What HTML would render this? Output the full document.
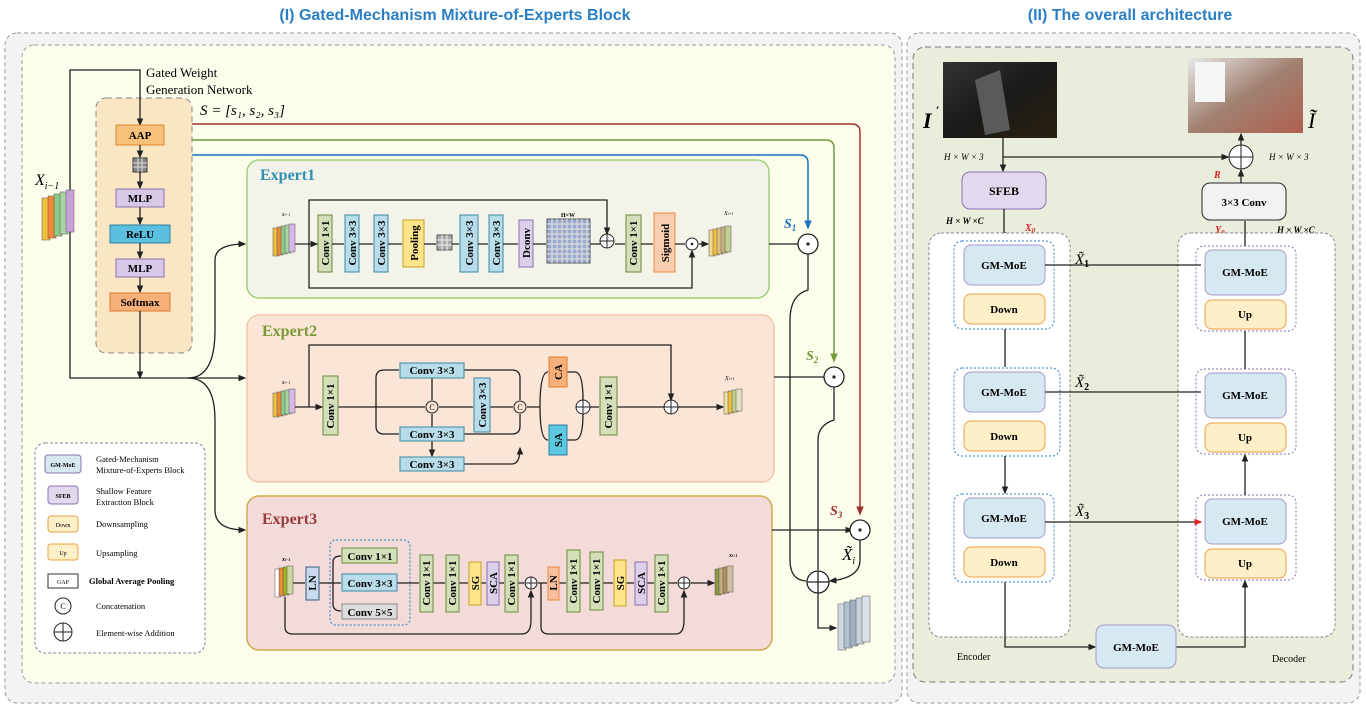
<!DOCTYPE html>
<html><head><meta charset="utf-8"><style>
html,body{margin:0;padding:0;background:#fff;width:1366px;height:709px;overflow:hidden}
svg text{font-family:"Liberation Serif",serif;font-weight:bold}
svg text.n{font-weight:normal}
.t{font-size:11px}
.ln{stroke:#222;stroke-width:1.3;fill:none}
</style></head><body>
<svg width="1366" height="709" viewBox="0 0 1366 709" xmlns="http://www.w3.org/2000/svg">
<defs>
<marker id="a" markerWidth="6" markerHeight="6" refX="5" refY="3" orient="auto"><path d="M0,0.5 L6,3 L0,5.5z" fill="#222"/></marker>
<marker id="ab" markerWidth="6" markerHeight="6" refX="5" refY="3" orient="auto"><path d="M0,0.5 L6,3 L0,5.5z" fill="#1a6fc0"/></marker>
<marker id="ag" markerWidth="6" markerHeight="6" refX="5" refY="3" orient="auto"><path d="M0,0.5 L6,3 L0,5.5z" fill="#6f9a3a"/></marker>
<marker id="ar" markerWidth="6" markerHeight="6" refX="5" refY="3" orient="auto"><path d="M0,0.5 L6,3 L0,5.5z" fill="#a03030"/></marker>
<marker id="rr" markerWidth="6" markerHeight="6" refX="5" refY="3" orient="auto"><path d="M0,0.5 L6,3 L0,5.5z" fill="#e02020"/></marker>
</defs>
<text x="455" y="20" text-anchor="middle" style="font-family:'Liberation Sans',sans-serif;font-size:16px" fill="#2a7fc4">(I) Gated-Mechanism Mixture-of-Experts Block</text>
<text x="1130" y="20" text-anchor="middle" style="font-family:'Liberation Sans',sans-serif;font-size:16px" fill="#2a7fc4">(II) The overall architecture</text>
<rect x="5" y="33" width="897" height="670" rx="12" fill="#f3f3f3" stroke="#999" stroke-dasharray="4,3"/>
<rect x="22" y="45" width="873" height="638" rx="12" fill="#fdfdec" stroke="#999" stroke-dasharray="4,3"/>
<rect x="907" y="33" width="453" height="670" rx="12" fill="#f3f3f3" stroke="#999" stroke-dasharray="4,3"/>
<rect x="913" y="47" width="440" height="635" rx="12" fill="#e9eedc" stroke="#777" stroke-dasharray="6,4"/>

<rect x="96" y="98" width="96" height="255" rx="10" fill="#fbe6c4" stroke="#888" stroke-dasharray="6,4"/>
<text x="146" y="77" class="n" style="font-size:13px">Gated Weight</text>
<text x="146" y="94" class="n" style="font-size:13px">Generation Network</text>
<text x="200" y="115" class="n" style="font-style:italic;font-size:15px">S = [s₁, s₂, s₃]</text>
<path class="ln" d="M70,205 V70 H140 V125" marker-end="url(#a)"/>
<rect x="116" y="125" width="48" height="20" fill="#f8c07a" stroke="#d88a2a"/><text x="140" y="139" text-anchor="middle" class="t">AAP</text>
<path class="ln" d="M140,145 V157" marker-end="url(#a)"/>
<rect x="133" y="158" width="14" height="14" fill="#888" stroke="#333"/>
<path d="M133,163 H147 M133,167 H147 M138,158 V172 M142,158 V172" stroke="#ddd" stroke-width="1"/>
<path class="ln" d="M140,172 V188" marker-end="url(#a)"/>
<rect x="116" y="189" width="48" height="18" fill="#d7c8e8" stroke="#8a72b0"/><text x="140" y="202" text-anchor="middle" class="t">MLP</text>
<path class="ln" d="M140,207 V224" marker-end="url(#a)"/>
<rect x="110" y="225" width="60" height="18" fill="#5bc0de" stroke="#2a7fa0"/><text x="140" y="238" text-anchor="middle" class="t">ReLU</text>
<path class="ln" d="M140,243 V258" marker-end="url(#a)"/>
<rect x="116" y="259" width="48" height="18" fill="#d7c8e8" stroke="#8a72b0"/><text x="140" y="272" text-anchor="middle" class="t">MLP</text>
<path class="ln" d="M140,277 V292" marker-end="url(#a)"/>
<rect x="110" y="293" width="60" height="18" fill="#f8b07a" stroke="#d87a2a"/><text x="140" y="306" text-anchor="middle" class="t">Softmax</text>
<path class="ln" d="M140,311 V378" marker-end="url(#a)"/>

<text x="35" y="185" class="n" style="font-style:italic;font-size:16px">X<tspan font-size="10" dy="4">i−1</tspan></text>
<rect x="42" y="198" width="8" height="42" fill="#f0c040" stroke="#555" stroke-width=".5"/>
<rect x="48" y="196" width="8" height="42" fill="#f08a3a" stroke="#555" stroke-width=".5"/>
<rect x="54" y="194" width="8" height="42" fill="#8fc98a" stroke="#555" stroke-width=".5"/>
<rect x="60" y="192" width="8" height="42" fill="#a6d6a0" stroke="#555" stroke-width=".5"/>
<rect x="66" y="190" width="8" height="42" fill="#c9a0dc" stroke="#555" stroke-width=".5"/>
<path class="ln" d="M70,232 V378 H245" marker-end="url(#a)"/>
<path class="ln" d="M188,378 Q215,378 215,330 V260 Q215,244 245,244" marker-end="url(#a)"/>
<path class="ln" d="M188,378 Q215,378 215,420 V510 Q215,530 245,530" marker-end="url(#a)"/>

<path d="M192,155 H800 Q808,155 808,163 V228" stroke="#1a6fc0" stroke-width="1.5" fill="none" marker-end="url(#ab)"/>
<path d="M192,140 H826 Q834,140 834,148 V361" stroke="#6f9a3a" stroke-width="1.5" fill="none" marker-end="url(#ag)"/>
<path d="M192,124 H852 Q860,124 860,132 V514" stroke="#a03030" stroke-width="1.5" fill="none" marker-end="url(#ar)"/>

<!-- Expert1 -->
<rect x="247" y="160" width="522" height="138" rx="12" fill="#f3f3ea" stroke="#9fd17a" stroke-width="1.5"/>
<text x="260" y="180" fill="#2f8fb0" style="font-size:16px">Expert1</text>
<text x="282" y="216" class="n" style="font-style:italic;font-size:6px">x<tspan font-size="4">i−1</tspan></text>
<rect x="273" y="228" width="6" height="28" fill="#f0c040" stroke="#555" stroke-width=".5"/>
<rect x="277" y="227" width="6" height="28" fill="#f08a3a" stroke="#555" stroke-width=".5"/>
<rect x="281" y="226" width="6" height="28" fill="#8fc98a" stroke="#555" stroke-width=".5"/>
<rect x="285" y="225" width="6" height="28" fill="#a6d6a0" stroke="#555" stroke-width=".5"/>
<rect x="289" y="224" width="6" height="28" fill="#d6b8e8" stroke="#555" stroke-width=".5"/>
<path class="ln" d="M295,244 H317" marker-end="url(#a)"/>
<path class="ln" d="M309,244 V200 H607 V234" marker-end="url(#a)"/>
<path class="ln" d="M309,244 V288 H692 V251" marker-end="url(#a)"/>
<g class="t">
<rect x="318" y="215" width="14" height="57" fill="#d2dfb8" stroke="#6a8a3a"/><text transform="translate(329,243) rotate(-90)" text-anchor="middle">Conv 1×1</text>
<rect x="345" y="215" width="14" height="57" fill="#b8dcea" stroke="#3a8aa0"/><text transform="translate(356,243) rotate(-90)" text-anchor="middle">Conv 3×3</text>
<rect x="374" y="215" width="14" height="57" fill="#b8dcea" stroke="#3a8aa0"/><text transform="translate(385,243) rotate(-90)" text-anchor="middle">Conv 3×3</text>
<rect x="403" y="220" width="21" height="47" fill="#fde38a" stroke="#c8a020"/><text transform="translate(418,243) rotate(-90)" text-anchor="middle">Pooling</text>
<rect x="460" y="215" width="18" height="57" fill="#b8dcea" stroke="#3a8aa0"/><text transform="translate(473,243) rotate(-90)" text-anchor="middle">Conv 3×3</text>
<rect x="489" y="215" width="14" height="57" fill="#b8dcea" stroke="#3a8aa0"/><text transform="translate(500,243) rotate(-90)" text-anchor="middle">Conv 3×3</text>
<rect x="519" y="220" width="14" height="47" fill="#dccfea" stroke="#8a72b0"/><text transform="translate(530,243) rotate(-90)" text-anchor="middle">Dconv</text>
<rect x="626" y="215" width="15" height="57" fill="#d2dfb8" stroke="#6a8a3a"/><text transform="translate(637,243) rotate(-90)" text-anchor="middle">Conv 1×1</text>
<rect x="654" y="213" width="21" height="59" fill="#f9cdb0" stroke="#f08a3a"/><text transform="translate(669,243) rotate(-90)" text-anchor="middle">Sigmoid</text>
</g>
<rect x="437" y="235" width="15" height="15" fill="#aaa" stroke="#555"/>
<path d="M437,240 H452 M437,245 H452 M442,235 V250 M447,235 V250" stroke="#eee"/>
<rect x="547" y="219" width="43" height="44" fill="#9ac" stroke="#555"/>
<path d="M547,224 H590 M547,229 H590 M547,234 H590 M547,239 H590 M547,244 H590 M547,249 H590 M547,254 H590 M547,259 H590 M552,219 V263 M557,219 V263 M562,219 V263 M567,219 V263 M572,219 V263 M577,219 V263 M582,219 V263 M587,219 V263" stroke="#ddd" stroke-width="1.2"/>
<text x="568" y="217" text-anchor="middle" style="font-size:6px">H×W</text>
<path class="ln" d="M332,244 H344 M359,244 H373 M388,244 H402 M424,244 H436 M452,244 H459 M478,244 H488 M503,244 H518 M533,244 H546 M590,244 H600 M615,244 H625 M641,244 H653 M675,244 H685 M699,244 H708" marker-end="url(#a)"/>
<circle cx="607" cy="241" r="7" fill="#fff" stroke="#222"/><path d="M600,241 H614 M607,234 V248" stroke="#222"/>
<circle cx="692" cy="244" r="6" fill="#fff" stroke="#222"/><circle cx="692" cy="244" r="1.3" fill="#222"/>
<rect x="709" y="230" width="6" height="26" fill="#f0d890" stroke="#555" stroke-width=".5"/>
<rect x="713" y="229" width="6" height="26" fill="#f0c040" stroke="#555" stroke-width=".5"/>
<rect x="717" y="228" width="6" height="26" fill="#e0c080" stroke="#555" stroke-width=".5"/>
<rect x="721" y="227" width="6" height="26" fill="#c9b080" stroke="#555" stroke-width=".5"/>
<rect x="725" y="226" width="6" height="26" fill="#c0d090" stroke="#555" stroke-width=".5"/>
<text x="724" y="215" class="n" style="font-style:italic;font-size:6px">X<tspan font-size="4">i+1</tspan></text>

<!-- Expert2 -->
<rect x="247" y="315" width="527" height="167" rx="12" fill="#fbe5d6" stroke="#f3c7a8" stroke-width="1.5"/>
<text x="262" y="336" fill="#7a9a3a" style="font-size:16px">Expert2</text>
<text x="282" y="384" class="n" style="font-style:italic;font-size:6px">x<tspan font-size="4">i−1</tspan></text>
<rect x="273" y="393" width="6" height="24" fill="#f0c040" stroke="#555" stroke-width=".5"/>
<rect x="277" y="392" width="6" height="24" fill="#f08a3a" stroke="#555" stroke-width=".5"/>
<rect x="281" y="391" width="6" height="24" fill="#8fc98a" stroke="#555" stroke-width=".5"/>
<rect x="285" y="390" width="6" height="24" fill="#a6d6a0" stroke="#555" stroke-width=".5"/>
<rect x="289" y="389" width="6" height="24" fill="#d6b8e8" stroke="#555" stroke-width=".5"/>
<path class="ln" d="M295,407 H322" marker-end="url(#a)"/>
<path class="ln" d="M309,407 V345 H671 V400" marker-end="url(#a)"/>
<path class="ln" d="M337,407 H376 M376,407 H425 M376,407 V378 Q376,370 384,370 H399 M376,407 V426 Q376,434 384,434 H399 M439,407 H473 M490,407 H513 M464,370 H512 Q520,370 520,378 V400 M464,434 H512 Q520,434 520,426 V414 M464,464 H512 Q520,464 520,448" marker-end="url(#a)"/>
<path class="ln" d="M432,378 V400 M432,434 V414 M432,441 V456" marker-end="url(#a)"/>
<path class="ln" d="M527,407 H540 Q540,372 548,372 M540,407 Q540,440 548,440 M567,372 H575 Q583,372 583,400 M567,440 H575 Q583,440 583,414 M590,407 H599 M617,407 H664 M678,407 H723" marker-end="url(#a)"/>
<g class="t">
<rect x="323" y="376" width="15" height="59" fill="#d2dfb8" stroke="#6a8a3a"/><text transform="translate(334,406) rotate(-90)" text-anchor="middle">Conv 1×1</text>
<rect x="400" y="363" width="64" height="15" fill="#b8dcea" stroke="#3a8aa0"/><text x="432" y="374" text-anchor="middle">Conv 3×3</text>
<rect x="400" y="427" width="64" height="14" fill="#b8dcea" stroke="#3a8aa0"/><text x="432" y="438" text-anchor="middle">Conv 3×3</text>
<rect x="400" y="457" width="64" height="14" fill="#b8dcea" stroke="#3a8aa0"/><text x="432" y="468" text-anchor="middle">Conv 3×3</text>
<rect x="474" y="378" width="16" height="54" fill="#b8dcea" stroke="#3a8aa0"/><text transform="translate(486,405) rotate(-90)" text-anchor="middle">Conv 3×3</text>
<rect x="549" y="357" width="18" height="30" fill="#f8b07a" stroke="#e07a2a"/><text transform="translate(562,372) rotate(-90)" text-anchor="middle">CA</text>
<rect x="549" y="425" width="18" height="30" fill="#5bc8e0" stroke="#2a7fa0"/><text transform="translate(562,440) rotate(-90)" text-anchor="middle">SA</text>
<rect x="600" y="377" width="17" height="58" fill="#d2dfb8" stroke="#6a8a3a"/><text transform="translate(612,406) rotate(-90)" text-anchor="middle">Conv 1×1</text>
</g>
<circle cx="432" cy="407" r="6" fill="#fbe5d6" stroke="#222"/><text x="432" y="410" text-anchor="middle" class="n" style="font-size:8px">C</text>
<circle cx="520" cy="407" r="6" fill="#fbe5d6" stroke="#222"/><text x="520" y="410" text-anchor="middle" class="n" style="font-size:8px">C</text>
<circle cx="583" cy="407" r="7" fill="#fff" stroke="#222"/><path d="M576,407 H590 M583,400 V414" stroke="#222"/>
<circle cx="671" cy="407" r="7" fill="#fff" stroke="#222"/><path d="M664,407 H678 M671,400 V414" stroke="#222"/>
<text x="725" y="380" class="n" style="font-style:italic;font-size:6px">X<tspan font-size="4">i+1</tspan></text>
<rect x="724" y="392" width="6" height="22" fill="#f0e0a0" stroke="#555" stroke-width=".5"/>
<rect x="728" y="391" width="6" height="22" fill="#f0c040" stroke="#555" stroke-width=".5"/>
<rect x="732" y="390" width="6" height="22" fill="#c0d090" stroke="#555" stroke-width=".5"/>
<rect x="736" y="389" width="6" height="22" fill="#e0e0c0" stroke="#555" stroke-width=".5"/>

<!-- Expert3 -->
<rect x="247" y="496" width="525" height="154" rx="12" fill="#f3dbd9" stroke="#d4a94a" stroke-width="1.5"/>
<text x="262" y="524" fill="#9a3a3a" style="font-size:16px">Expert3</text>
<text x="282" y="561" style="font-style:italic;font-size:6px">x<tspan font-size="4">i−1</tspan></text>
<rect x="275" y="569" width="6" height="28" fill="#fff" stroke="#555" stroke-width=".5"/>
<rect x="279" y="568" width="6" height="28" fill="#f08a3a" stroke="#555" stroke-width=".5"/>
<rect x="283" y="567" width="6" height="28" fill="#a0b020" stroke="#555" stroke-width=".5"/>
<rect x="287" y="566" width="6" height="28" fill="#c8d8a0" stroke="#555" stroke-width=".5"/>
<rect x="330" y="540" width="80" height="85" rx="6" fill="none" stroke="#2a7fd0" stroke-dasharray="2,2"/>
<path class="ln" d="M293,583 H305 M319,583 H341 M333,583 V562 Q333,556 341,556 M333,583 V604 Q333,611 341,611 M397,583 H419 M432,583 H445 M459,583 H468 M481,583 H486 M499,583 H504 M518,583 H524 M538,583 H547 M559,583 H566 M580,583 H589 M603,583 H613 M626,583 H634 M647,583 H654 M668,583 H677 M691,583 H714" marker-end="url(#a)"/>
<path class="ln" d="M285,597 V627 Q285,634 293,634 H522 Q531,634 531,620 V591" marker-end="url(#a)"/>
<path class="ln" d="M541,583 V627 Q541,634 549,634 H676 Q684,634 684,620 V591" marker-end="url(#a)"/>
<g class="t">
<rect x="306" y="567" width="13" height="33" fill="#c8daf0" stroke="#3a5a80"/><text transform="translate(316,583) rotate(-90)" text-anchor="middle">LN</text>
<rect x="342" y="548" width="55" height="15" fill="#d2dfb8" stroke="#6a8a3a"/><text x="370" y="560" text-anchor="middle">Conv 1×1</text>
<rect x="342" y="574" width="55" height="17" fill="#b8dcea" stroke="#3a8aa0"/><text x="370" y="587" text-anchor="middle">Conv 3×3</text>
<rect x="342" y="604" width="55" height="15" fill="#ddd" stroke="#888"/><text x="370" y="616" text-anchor="middle">Conv 5×5</text>
<rect x="420" y="555" width="13" height="57" fill="#d2dfb8" stroke="#6a8a3a"/><text transform="translate(430,583) rotate(-90)" text-anchor="middle">Conv 1×1</text>
<rect x="446" y="555" width="13" height="57" fill="#d2dfb8" stroke="#6a8a3a"/><text transform="translate(456,583) rotate(-90)" text-anchor="middle">Conv 1×1</text>
<rect x="469" y="562" width="12" height="43" fill="#fde38a" stroke="#c8a020"/><text transform="translate(479,583) rotate(-90)" text-anchor="middle">SG</text>
<rect x="487" y="562" width="12" height="43" fill="#dccfea" stroke="#8a72b0"/><text transform="translate(497,583) rotate(-90)" text-anchor="middle">SCA</text>
<rect x="505" y="555" width="13" height="57" fill="#d2dfb8" stroke="#6a8a3a"/><text transform="translate(515,583) rotate(-90)" text-anchor="middle">Conv 1×1</text>
<rect x="548" y="567" width="11" height="33" fill="#f9bfa0" stroke="#f08a3a"/><text transform="translate(557,583) rotate(-90)" text-anchor="middle">LN</text>
<rect x="567" y="550" width="13" height="62" fill="#d2dfb8" stroke="#6a8a3a"/><text transform="translate(577,581) rotate(-90)" text-anchor="middle">Conv 1×1</text>
<rect x="590" y="552" width="13" height="58" fill="#d2dfb8" stroke="#6a8a3a"/><text transform="translate(600,581) rotate(-90)" text-anchor="middle">Conv 1×1</text>
<rect x="614" y="560" width="12" height="46" fill="#fde38a" stroke="#c8a020"/><text transform="translate(624,583) rotate(-90)" text-anchor="middle">SG</text>
<rect x="635" y="562" width="12" height="43" fill="#dccfea" stroke="#8a72b0"/><text transform="translate(645,583) rotate(-90)" text-anchor="middle">SCA</text>
<rect x="655" y="555" width="13" height="57" fill="#d2dfb8" stroke="#6a8a3a"/><text transform="translate(665,583) rotate(-90)" text-anchor="middle">Conv 1×1</text>
</g>
<circle cx="531" cy="583" r="6" fill="#fff" stroke="#222"/><path d="M525,583 H537 M531,577 V589" stroke="#222"/>
<circle cx="684" cy="583" r="6" fill="#fff" stroke="#222"/><path d="M678,583 H690 M684,577 V589" stroke="#222"/>
<text x="729" y="557" style="font-style:italic;font-size:6px">x<tspan font-size="4">i+1</tspan></text>
<rect x="715" y="569" width="6" height="26" fill="#8a9a40" stroke="#555" stroke-width=".5"/>
<rect x="719" y="568" width="6" height="26" fill="#c0b080" stroke="#555" stroke-width=".5"/>
<rect x="723" y="567" width="6" height="26" fill="#b09060" stroke="#555" stroke-width=".5"/>
<rect x="727" y="566" width="6" height="26" fill="#d0c0a0" stroke="#555" stroke-width=".5"/>

<!-- combine -->
<path class="ln" d="M769,244 H800 M774,377 H826 M772,530 H852" marker-end="url(#a)"/>
<circle cx="808" cy="244" r="10" fill="#fff" stroke="#222" stroke-width="1.3"/><circle cx="808" cy="244" r="1.6" fill="#222"/>
<circle cx="834" cy="377" r="10" fill="#fff" stroke="#222" stroke-width="1.3"/><circle cx="834" cy="377" r="1.6" fill="#222"/>
<circle cx="860" cy="530" r="10" fill="#fff" stroke="#222" stroke-width="1.3"/><circle cx="860" cy="530" r="1.6" fill="#222"/>
<text x="784" y="228" fill="#1a6fc0" style="font-style:italic;font-size:14px">S<tspan font-size="9" dy="3">1</tspan></text>
<text x="806" y="360" fill="#6f9a3a" style="font-style:italic;font-size:14px">S<tspan font-size="9" dy="3">2</tspan></text>
<text x="830" y="515" fill="#a03030" style="font-style:italic;font-size:14px">S<tspan font-size="9" dy="3">3</tspan></text>
<path class="ln" d="M808,254 V290 Q790,295 790,320 V560 Q790,580 806,581 M834,387 V420 Q818,425 818,440 V570 M860,540 V560 Q860,578 830,581" marker-end="url(#a)"/>
<circle cx="818" cy="582" r="11" fill="#fff" stroke="#222" stroke-width="1.3"/><path d="M807,582 H829 M818,571 V593" stroke="#222" stroke-width="1.3"/>
<path class="ln" d="M818,593 V628 H836" marker-end="url(#a)"/>
<text x="842" y="560" class="n" style="font-style:italic;font-size:17px">X̃<tspan font-size="10" dy="4">i</tspan></text>
<rect x="838" y="604" width="8" height="46" fill="#cfd8e0" stroke="#555" stroke-width=".5"/>
<rect x="844" y="602" width="8" height="46" fill="#b0c0d0" stroke="#555" stroke-width=".5"/>
<rect x="850" y="600" width="8" height="46" fill="#a0b0c0" stroke="#555" stroke-width=".5"/>
<rect x="856" y="598" width="8" height="46" fill="#c8d0d8" stroke="#555" stroke-width=".5"/>
<rect x="862" y="596" width="8" height="46" fill="#d8e0e8" stroke="#555" stroke-width=".5"/>

<!-- legend -->
<rect x="35" y="443" width="170" height="210" rx="10" fill="#fff" stroke="#888" stroke-dasharray="3,2"/>
<g style="font-size:8.5px">
<rect x="45" y="455" width="36" height="18" rx="3" fill="#d6e8f2" stroke="#8a72b0"/><text x="63" y="467" text-anchor="middle" font-size="6">GM-MoE</text>
<text x="96" y="462" class="n" font-size="8.5">Gated-Mechanism</text><text x="96" y="473" class="n" font-size="8.5">Mixture-of-Experts Block</text>
<rect x="48" y="486" width="30" height="18" rx="3" fill="#e3d9ef" stroke="#8a72b0"/><text x="63" y="498" text-anchor="middle" font-size="6">SFEB</text>
<text x="96" y="494" class="n" font-size="8.5">Shallow Feature</text><text x="96" y="505" class="n" font-size="8.5">Extraction Block</text>
<rect x="48" y="516" width="30" height="16" rx="3" fill="#fdf0c8" stroke="#f0a040"/><text x="63" y="527" text-anchor="middle" font-size="6" class="n">Down</text>
<text x="96" y="527" class="n" font-size="8.5">Downsampling</text>
<rect x="48" y="544" width="30" height="16" rx="3" fill="#fdf0c8" stroke="#f0a040"/><text x="63" y="555" text-anchor="middle" font-size="6" class="n">Up</text>
<text x="96" y="556" class="n" font-size="8.5">Upsampling</text>
<rect x="48" y="574" width="30" height="14" fill="#fff" stroke="#333"/><text x="63" y="584" text-anchor="middle" font-size="6" class="n">GAP</text>
<text x="89" y="584" font-size="8.5">Global Average Pooling</text>
<circle cx="63" cy="606" r="8" fill="#fff" stroke="#222"/><text x="63" y="609" text-anchor="middle" font-size="8" class="n">C</text>
<text x="96" y="609" class="n" font-size="8.5">Concatenation</text>
<circle cx="63" cy="632" r="9" fill="#fff" stroke="#222"/><path d="M54,632 H72 M63,623 V641" stroke="#222"/>
<text x="96" y="636" class="n" font-size="8.5">Element-wise Addition</text>
</g>

<!-- RIGHT -->
<defs>
<linearGradient id="imgA" x1="0" y1="0" x2="1" y2="1"><stop offset="0" stop-color="#333"/><stop offset=".5" stop-color="#1a1a1a"/><stop offset="1" stop-color="#2a2010"/></linearGradient>
<linearGradient id="imgB" x1="0" y1="0" x2="1" y2="1"><stop offset="0" stop-color="#e8e8e8"/><stop offset=".5" stop-color="#a08070"/><stop offset="1" stop-color="#b06050"/></linearGradient>
</defs>
<rect x="943" y="62" width="114" height="76" fill="url(#imgA)"/>
<polygon points="975,80 1000,70 1010,130 985,135" fill="#5a5a5a"/>
<rect x="1188" y="58" width="115" height="75" fill="url(#imgB)"/>
<rect x="1195" y="62" width="30" height="40" fill="#f5f5f5"/>
<text x="923" y="128" style="font-style:italic;font-size:22px">I</text><text x="936" y="114" style="font-size:12px">′</text>
<text x="1308" y="128" class="n" style="font-style:italic;font-size:22px">Ĩ</text>
<g>
<text x="944" y="160" class="n" font-style="italic" font-size="9">H × W × 3</text>
<text x="1269" y="160" class="n" font-style="italic" font-size="9">H × W × 3</text>
<text x="946" y="224" font-style="italic" font-size="9">H × W ×C</text>
<text x="1277" y="233" font-style="italic" font-size="9">H × W ×C</text>
<text x="946" y="344" class="n" font-style="italic" font-size="9">H/2 × W/2 × 2C</text>
<text x="946" y="471" class="n" font-style="italic" font-size="9">H/4 × W/4 × 4C</text>
<text x="946" y="603" class="n" font-style="italic" font-size="9">H/8 × W/8 × 8C</text>
<text x="1262" y="350" class="n" font-style="italic" font-size="9">H/2 × W/2 × 2C</text>
<text x="1262" y="475" class="n" font-style="italic" font-size="9">H/4 × W/4 × 4C</text>
<text x="1262" y="603" class="n" font-style="italic" font-size="9">H/8 × W/8 × 8C</text>
</g>
<g fill="#e02020" style="font-style:italic;font-size:10px">
<text x="1025" y="231">X<tspan font-size="7" dy="2">0</tspan></text>
<text x="1030" y="348">X<tspan font-size="7" dy="2">1</tspan></text>
<text x="1030" y="476">X<tspan font-size="7" dy="2">2</tspan></text>
<text x="1030" y="609">X<tspan font-size="7" dy="2">3</tspan></text>
<text x="1214" y="178">R</text>
<text x="1215" y="233">Y<tspan font-size="7" dy="2">0</tspan></text>
<text x="1220" y="354">Y<tspan font-size="7" dy="2">1</tspan></text>
<text x="1220" y="479">Y<tspan font-size="7" dy="2">2</tspan></text>
<text x="1220" y="612">Y<tspan font-size="7" dy="2">3</tspan></text>
</g>
<path class="ln" d="M1003,138 V171" marker-end="url(#a)"/>
<path class="ln" d="M1003,157 H1228" marker-end="url(#a)"/>
<circle cx="1241" cy="157" r="12" fill="#fff" stroke="#222"/><path d="M1229,157 H1253 M1241,145 V169" stroke="#222"/>
<path class="ln" d="M1241,145 V134" marker-end="url(#a)"/>
<path class="ln" d="M1241,187 V170" marker-end="url(#a)"/>
<rect x="962" y="172" width="84" height="37" rx="8" fill="#e3d9ef" stroke="#8a72b0"/><text x="1004" y="195" text-anchor="middle" font-size="12">SFEB</text>
<rect x="1202" y="183" width="84" height="37" rx="8" fill="#f2f2f2" stroke="#222"/><text x="1244" y="206" text-anchor="middle" font-size="11">3×3 Conv</text>
<path class="ln" d="M1004,209 V239" marker-end="url(#a)"/>
<rect x="929" y="233" width="141" height="404" rx="12" fill="#fff" stroke="#888" stroke-dasharray="3,2"/>
<rect x="1178" y="233" width="157" height="404" rx="12" fill="#fff" stroke="#888" stroke-dasharray="3,2"/>
<text x="957" y="660" class="n" font-size="10">Encoder</text>
<text x="1272" y="662" class="n" font-size="10">Decoder</text>
<rect x="954" y="241" width="100" height="88" rx="8" fill="none" stroke="#2a7fd0" stroke-dasharray="2,2"/>
<rect x="964" y="245" width="81" height="40" rx="7" fill="#d6e8f2" stroke="#a898c8"/><text x="1004" y="269" text-anchor="middle" font-size="11">GM-MoE</text>
<rect x="964" y="294" width="81" height="30" rx="7" fill="#fdf0c8" stroke="#f0a040"/><text x="1004" y="313" text-anchor="middle" font-size="11">Down</text>
<rect x="954" y="368" width="106" height="88" rx="8" fill="none" stroke="#2a7fd0" stroke-dasharray="2,2"/>
<rect x="964" y="372" width="81" height="40" rx="7" fill="#d6e8f2" stroke="#a898c8"/><text x="1004" y="396" text-anchor="middle" font-size="11">GM-MoE</text>
<rect x="964" y="421" width="81" height="30" rx="7" fill="#fdf0c8" stroke="#f0a040"/><text x="1004" y="440" text-anchor="middle" font-size="11">Down</text>
<rect x="954" y="494" width="100" height="88" rx="8" fill="none" stroke="#2a7fd0" stroke-dasharray="2,2"/>
<rect x="964" y="498" width="81" height="40" rx="7" fill="#d6e8f2" stroke="#a898c8"/><text x="1004" y="522" text-anchor="middle" font-size="11">GM-MoE</text>
<rect x="964" y="547" width="81" height="30" rx="7" fill="#fdf0c8" stroke="#f0a040"/><text x="1004" y="566" text-anchor="middle" font-size="11">Down</text>
<path class="ln" d="M1005,329 V367 M1005,456 V493" marker-end="url(#a)"/>
<rect x="1196" y="246" width="100" height="85" rx="8" fill="none" stroke="#8a72b0" stroke-dasharray="2,2"/>
<rect x="1205" y="250" width="81" height="45" rx="7" fill="#d6e8f2" stroke="#a898c8"/><text x="1245" y="276" text-anchor="middle" font-size="11">GM-MoE</text>
<rect x="1205" y="300" width="81" height="29" rx="7" fill="#fdf0c8" stroke="#f0a040"/><text x="1245" y="318" text-anchor="middle" font-size="11">Up</text>
<rect x="1196" y="369" width="100" height="85" rx="8" fill="none" stroke="#8a72b0" stroke-dasharray="2,2"/>
<rect x="1205" y="373" width="81" height="45" rx="7" fill="#d6e8f2" stroke="#a898c8"/><text x="1245" y="399" text-anchor="middle" font-size="11">GM-MoE</text>
<rect x="1205" y="423" width="81" height="29" rx="7" fill="#fdf0c8" stroke="#f0a040"/><text x="1245" y="441" text-anchor="middle" font-size="11">Up</text>
<rect x="1196" y="495" width="100" height="85" rx="8" fill="none" stroke="#8a72b0" stroke-dasharray="2,2"/>
<rect x="1205" y="499" width="81" height="45" rx="7" fill="#d6e8f2" stroke="#a898c8"/><text x="1245" y="525" text-anchor="middle" font-size="11">GM-MoE</text>
<rect x="1205" y="549" width="81" height="29" rx="7" fill="#fdf0c8" stroke="#f0a040"/><text x="1245" y="567" text-anchor="middle" font-size="11">Up</text>
<path class="ln" d="M1245,246 V221 M1245,369 V331 M1245,495 V455" marker-end="url(#a)"/>
<path class="ln" d="M1045,265 H1201 M1045,392 H1201 M1045,522 H1201" marker-end="url(#rr)"/>
<text x="1075" y="264" class="n" style="font-style:italic;font-size:15px">X̃<tspan font-size="10" font-style="normal" font-weight="bold" dy="3">1</tspan></text>
<text x="1075" y="387" class="n" style="font-style:italic;font-size:15px">X̃<tspan font-size="10" font-style="normal" font-weight="bold" dy="3">2</tspan></text>
<text x="1075" y="516" class="n" style="font-style:italic;font-size:15px">X̃<tspan font-size="10" font-style="normal" font-weight="bold" dy="3">3</tspan></text>
<path class="ln" d="M1005,582 V647 H1095" marker-end="url(#a)"/>
<path class="ln" d="M1176,647 H1245 V581" marker-end="url(#a)"/>
<rect x="1096" y="625" width="80" height="43" rx="8" fill="#d6e8f2" stroke="#a898c8"/><text x="1136" y="651" text-anchor="middle" font-size="11">GM-MoE</text>
</svg>
</body></html>
